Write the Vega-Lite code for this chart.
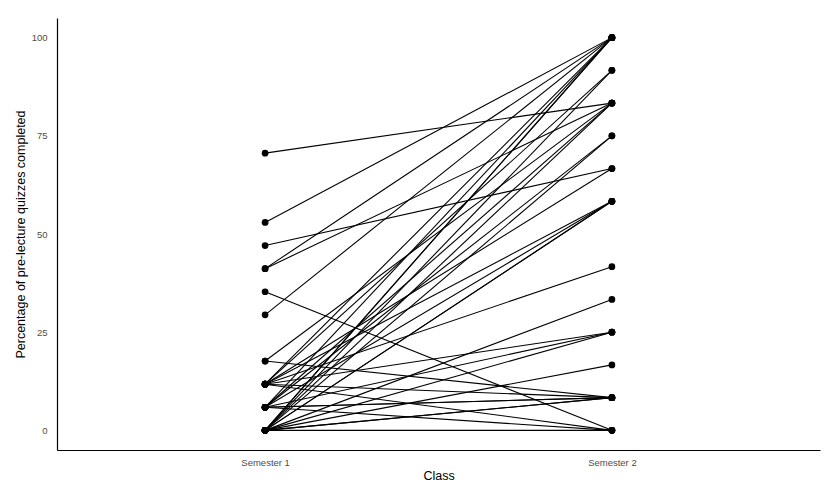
{
  "$schema": "https://vega.github.io/schema/vega-lite/v6.json",
  "description": "Pre-lecture quiz completion, semester 1 vs semester 2, one line per student",
  "width": 763,
  "height": 432,
  "autosize": {"type": "none"},
  "padding": {"left": 57, "top": 18, "right": 8, "bottom": 39},
  "background": "white",
  "config": {
    "view": {"stroke": null},
    "font": "Liberation Sans",
    "axis": {
      "grid": false,
      "ticks": false,
      "domainColor": "black",
      "domainWidth": 1.2,
      "labelColor": "#4d4d4d",
      "labelFontSize": 9.5,
      "titleColor": "black",
      "titleFontSize": 12.5,
      "titleFontWeight": "normal"
    }
  },
  "data": {
    "values": [
      {"student": 1, "class": "Semester 1", "pct": 70.59}, {"student": 1, "class": "Semester 2", "pct": 83.33},
      {"student": 2, "class": "Semester 1", "pct": 52.94}, {"student": 2, "class": "Semester 2", "pct": 100},
      {"student": 3, "class": "Semester 1", "pct": 47.06}, {"student": 3, "class": "Semester 2", "pct": 66.67},
      {"student": 4, "class": "Semester 1", "pct": 41.18}, {"student": 4, "class": "Semester 2", "pct": 100},
      {"student": 5, "class": "Semester 1", "pct": 41.18}, {"student": 5, "class": "Semester 2", "pct": 83.33},
      {"student": 6, "class": "Semester 1", "pct": 35.29}, {"student": 6, "class": "Semester 2", "pct": 0},
      {"student": 7, "class": "Semester 1", "pct": 29.41}, {"student": 7, "class": "Semester 2", "pct": 100},
      {"student": 8, "class": "Semester 1", "pct": 17.65}, {"student": 8, "class": "Semester 2", "pct": 83.33},
      {"student": 9, "class": "Semester 1", "pct": 17.65}, {"student": 9, "class": "Semester 2", "pct": 8.33},
      {"student": 10, "class": "Semester 1", "pct": 11.76}, {"student": 10, "class": "Semester 2", "pct": 91.67},
      {"student": 11, "class": "Semester 1", "pct": 11.76}, {"student": 11, "class": "Semester 2", "pct": 41.67},
      {"student": 12, "class": "Semester 1", "pct": 11.76}, {"student": 12, "class": "Semester 2", "pct": 58.33},
      {"student": 13, "class": "Semester 1", "pct": 11.76}, {"student": 13, "class": "Semester 2", "pct": 8.33},
      {"student": 14, "class": "Semester 1", "pct": 11.76}, {"student": 14, "class": "Semester 2", "pct": 0},
      {"student": 15, "class": "Semester 1", "pct": 11.76}, {"student": 15, "class": "Semester 2", "pct": 66.67},
      {"student": 16, "class": "Semester 1", "pct": 5.88}, {"student": 16, "class": "Semester 2", "pct": 100},
      {"student": 17, "class": "Semester 1", "pct": 5.88}, {"student": 17, "class": "Semester 2", "pct": 83.33},
      {"student": 18, "class": "Semester 1", "pct": 5.88}, {"student": 18, "class": "Semester 2", "pct": 58.33},
      {"student": 19, "class": "Semester 1", "pct": 5.88}, {"student": 19, "class": "Semester 2", "pct": 25},
      {"student": 20, "class": "Semester 1", "pct": 5.88}, {"student": 20, "class": "Semester 2", "pct": 8.33},
      {"student": 21, "class": "Semester 1", "pct": 5.88}, {"student": 21, "class": "Semester 2", "pct": 0},
      {"student": 22, "class": "Semester 1", "pct": 5.88}, {"student": 22, "class": "Semester 2", "pct": 75},
      {"student": 23, "class": "Semester 1", "pct": 0}, {"student": 23, "class": "Semester 2", "pct": 100},
      {"student": 24, "class": "Semester 1", "pct": 0}, {"student": 24, "class": "Semester 2", "pct": 100},
      {"student": 25, "class": "Semester 1", "pct": 0}, {"student": 25, "class": "Semester 2", "pct": 83.33},
      {"student": 26, "class": "Semester 1", "pct": 0}, {"student": 26, "class": "Semester 2", "pct": 75},
      {"student": 27, "class": "Semester 1", "pct": 0}, {"student": 27, "class": "Semester 2", "pct": 58.33},
      {"student": 28, "class": "Semester 1", "pct": 0}, {"student": 28, "class": "Semester 2", "pct": 58.33},
      {"student": 29, "class": "Semester 1", "pct": 0}, {"student": 29, "class": "Semester 2", "pct": 33.33},
      {"student": 30, "class": "Semester 1", "pct": 0}, {"student": 30, "class": "Semester 2", "pct": 25},
      {"student": 31, "class": "Semester 1", "pct": 0}, {"student": 31, "class": "Semester 2", "pct": 16.67},
      {"student": 32, "class": "Semester 1", "pct": 0}, {"student": 32, "class": "Semester 2", "pct": 8.33},
      {"student": 33, "class": "Semester 1", "pct": 0}, {"student": 33, "class": "Semester 2", "pct": 8.33},
      {"student": 34, "class": "Semester 1", "pct": 0}, {"student": 34, "class": "Semester 2", "pct": 0},
      {"student": 35, "class": "Semester 1", "pct": 11.76}, {"student": 35, "class": "Semester 2", "pct": 100},
      {"student": 36, "class": "Semester 1", "pct": 5.88}, {"student": 36, "class": "Semester 2", "pct": 8.33},
      {"student": 38, "class": "Semester 1", "pct": 0}, {"student": 38, "class": "Semester 2", "pct": 91.67},
      {"student": 39, "class": "Semester 1", "pct": 11.76}, {"student": 39, "class": "Semester 2", "pct": 25}
    ]
  },
  "encoding": {
    "x": {
      "field": "class",
      "type": "nominal",
      "title": "Class",
      "scale": {"type": "point", "padding": 0.6},
      "axis": {"labelAngle": 0, "labelPadding": 7, "titlePadding": 3}
    },
    "y": {
      "field": "pct",
      "type": "quantitative",
      "title": "Percentage of pre-lecture quizzes completed",
      "scale": {"domain": [-5, 105], "nice": false, "zero": false},
      "axis": {"values": [0, 25, 50, 75, 100], "labelPadding": 10, "titlePadding": 4}
    },
    "detail": {"field": "student"}
  },
  "layer": [
    {"mark": {"type": "line", "color": "black", "strokeWidth": 1.1}},
    {"mark": {"type": "circle", "color": "black", "opacity": 1, "size": 45}}
  ]
}
